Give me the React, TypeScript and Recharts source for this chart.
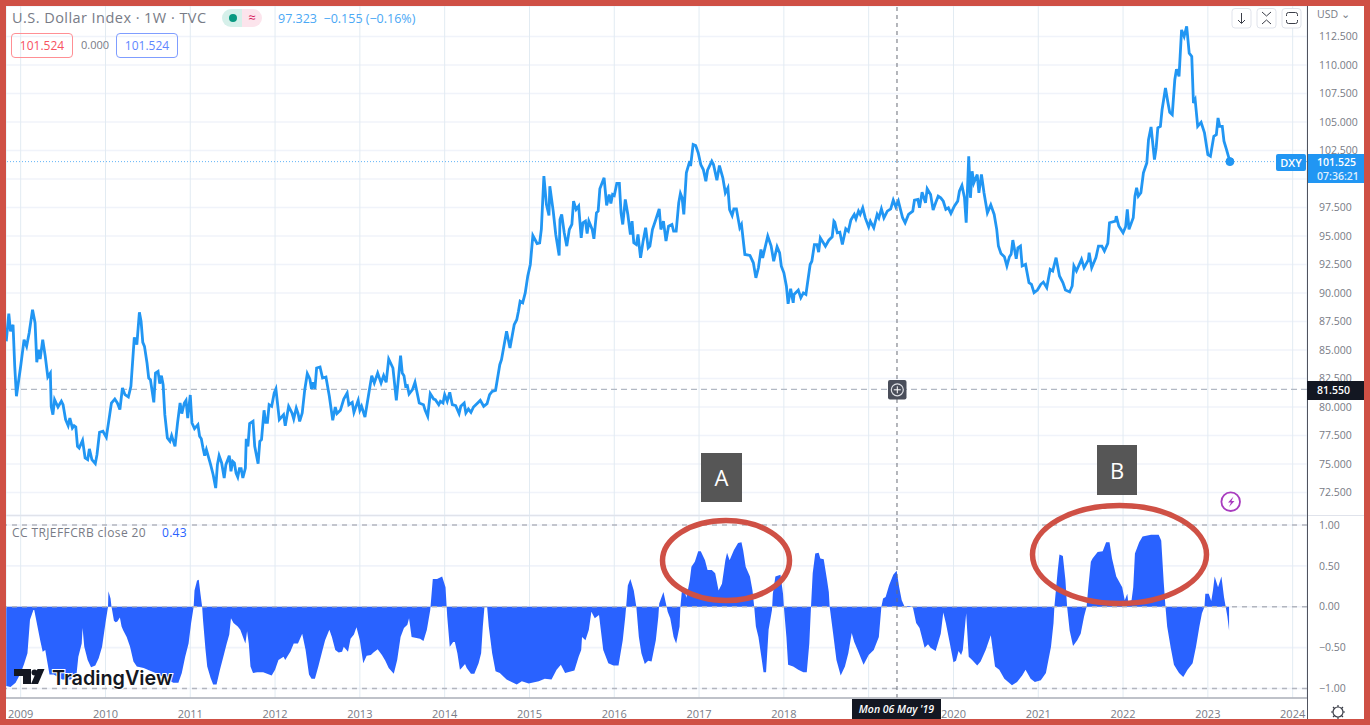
import React from 'react';
import { LineChart, AreaChart, Line, Area, XAxis, YAxis, CartesianGrid, ReferenceLine, ReferenceDot } from 'recharts';

const dxyDatesA = [
  2008.83,2008.86,2008.88,2008.91,2008.93,2008.95,2009.00,2009.04,2009.07,2009.10,
  2009.14,2009.17,2009.19,2009.21,2009.23,2009.26,2009.29,2009.32,2009.35,2009.36,
  2009.38,2009.40,2009.44,2009.48,2009.50,2009.53,2009.56,2009.58,2009.61,2009.63,
  2009.65,2009.67,2009.69,2009.73,2009.76,2009.79,2009.81,2009.84,2009.88,2009.90,
  2009.93,2009.97,2010.01,2010.05,2010.07,2010.11,2010.14,2010.17,2010.20,2010.23,
  2010.27,2010.30,2010.34,2010.37,2010.40,2010.42,2010.44,2010.46,2010.49,2010.51,
  2010.53,2010.57,2010.59,2010.62,2010.64,2010.66,2010.68,2010.70,2010.73,2010.76,
  2010.78,2010.82,2010.85,2010.88,2010.90,2010.93,2010.95,2010.97,2011.00,2011.02,
  2011.05,2011.09,2011.11,2011.13,2011.15,2011.17,2011.19,2011.21,2011.24,2011.27,
  2011.30,2011.32,2011.34,2011.37,2011.40,2011.42,2011.46,2011.48,2011.50,2011.52,
  2011.54,2011.56,2011.58,2011.60,2011.62,2011.65,2011.66,2011.68,2011.70,2011.74,
  2011.76,2011.80,2011.82,2011.84,2011.87,2011.89,2011.91,2011.93,2011.96,2011.99,
  2012.01,2012.05,2012.10,2012.12,2012.16,2012.20,2012.22,2012.25,2012.27,2012.29,
  2012.32,2012.35,2012.38,2012.41,2012.43,2012.45,2012.47,2012.49,2012.53,2012.56,
  2012.60,2012.64,2012.68,2012.71,2012.73,2012.77,2012.81,2012.85,2012.87,2012.91,
  2012.93,2012.98,2013.00,2013.02,2013.06,2013.10,2013.14,2013.17,2013.21,2013.25,
  2013.28,2013.31,2013.34,2013.39,2013.43,2013.48,2013.50,2013.52,2013.54,2013.56,
  2013.58,2013.62,2013.65,2013.70,2013.75,2013.77,2013.80,2013.83,2013.87,2013.89,
  2013.93,2013.95,2013.98,2014.00,2014.03,2014.06,2014.09,2014.13,2014.17,2014.19,
  2014.23,2014.25,2014.28,2014.31,2014.34,2014.38,2014.42,2014.46,2014.50,2014.53,
  2014.56,2014.60,2014.65,2014.67,2014.73,2014.77,2014.82,2014.85,2014.87,2014.89,
];
const dxyCloseA = [
  85.76,88.19,86.64,87.22,83.57,80.94,83.57,85.91,85.32,86.49,
  88.54,87.37,83.92,85.03,84.21,85.91,84.44,82.63,82.98,80.06,
  79.33,80.64,80.00,80.50,80.20,78.89,78.36,79.03,78.16,78.36,
  78.25,76.55,76.40,77.08,75.53,75.38,76.32,75.38,75.03,75.82,
  77.78,77.87,77.34,79.33,80.35,80.70,80.35,79.77,81.67,81.08,
  80.88,81.81,86.11,85.47,88.30,87.51,85.67,85.32,83.86,82.54,
  82.40,80.41,82.98,83.13,82.05,82.75,81.96,79.33,77.28,76.99,
  77.49,76.55,78.60,80.35,79.42,80.35,80.58,79.03,81.05,78.60,
  78.10,78.45,77.43,77.22,76.40,75.73,76.26,75.73,74.94,74.06,
  72.89,74.94,75.73,75.09,73.77,74.94,75.73,74.36,75.23,75.09,
  74.21,73.86,74.59,74.59,73.77,74.65,77.22,76.55,78.54,78.74,
  76.55,75.03,76.99,77.13,79.71,78.65,78.65,80.20,80.06,81.23,
  81.58,78.89,79.33,78.36,80.06,79.47,78.95,79.91,79.47,78.74,
  79.47,81.52,82.92,82.46,81.58,82.16,81.58,83.42,83.51,82.54,
  82.63,80.94,78.83,80.00,79.42,79.71,80.70,81.23,80.20,80.41,
  79.53,80.58,79.71,80.06,79.12,80.94,82.75,82.11,82.98,82.11,
  82.75,82.16,84.21,83.42,80.58,84.50,82.98,82.75,81.81,81.87,
  81.14,81.52,82.16,80.35,80.20,79.71,79.18,81.17,80.70,80.64,
  80.20,80.50,80.35,81.08,80.50,81.29,80.20,80.12,79.42,80.06,
  80.35,79.47,79.82,79.53,80.00,80.29,80.58,80.06,80.29,81.08,
  81.37,81.46,83.71,84.15,86.64,85.18,87.22,87.66,88.39,89.27,
];
const dxyDatesB = [
  2014.92,2014.95,2014.98,2015.01,2015.04,2015.09,2015.12,2015.14,2015.17,2015.20,
  2015.23,2015.24,2015.28,2015.31,2015.35,2015.36,2015.38,2015.41,2015.44,2015.47,
  2015.50,2015.52,2015.55,2015.58,2015.61,2015.63,2015.66,2015.68,2015.70,2015.74,
  2015.76,2015.79,2015.81,2015.83,2015.88,2015.91,2015.94,2015.96,2015.98,2016.00,
  2016.03,2016.06,2016.08,2016.10,2016.13,2016.16,2016.19,2016.21,2016.23,2016.26,
  2016.28,2016.31,2016.34,2016.37,2016.40,2016.42,2016.45,2016.49,2016.53,2016.55,
  2016.58,2016.61,2016.64,2016.68,2016.70,2016.73,2016.76,2016.78,2016.80,2016.82,
  2016.85,2016.89,2016.90,2016.93,2016.96,2016.99,2017.02,2017.05,2017.08,2017.10,
  2017.15,2017.17,2017.21,2017.24,2017.28,2017.31,2017.34,2017.36,2017.39,2017.41,
  2017.44,2017.48,2017.50,2017.54,2017.60,2017.64,2017.67,2017.70,2017.73,2017.75,
  2017.81,2017.85,2017.88,2017.92,2017.95,2017.97,2018.00,2018.03,2018.05,2018.08,
  2018.11,2018.12,2018.17,2018.20,2018.23,2018.26,2018.31,2018.33,2018.36,2018.39,
  2018.41,2018.43,2018.49,2018.53,2018.57,2018.59,2018.60,2018.63,2018.66,2018.69,
  2018.73,2018.76,2018.79,2018.83,2018.85,2018.88,2018.90,2018.93,2018.96,2019.00,
  2019.02,2019.06,2019.10,2019.12,2019.15,2019.18,2019.22,2019.26,2019.29,2019.32,
  2019.35,
];
const dxyCloseB = [
  89.14,90.01,91.48,92.50,95.04,94.34,94.40,95.57,100.25,97.76,
  96.80,99.37,97.18,95.13,93.29,96.45,96.89,95.28,94.11,95.57,
  96.01,98.06,97.32,97.62,94.84,96.15,96.30,95.22,96.30,95.57,
  94.75,97.03,97.18,99.14,100.10,97.68,98.64,97.85,98.64,98.55,
  99.61,99.61,97.03,96.01,98.20,96.89,95.13,96.30,94.40,94.25,
  95.13,93.08,94.55,95.72,93.96,94.11,95.57,96.45,97.38,95.57,
  96.30,94.55,95.86,96.01,95.42,95.42,97.91,98.73,98.35,96.89,
  100.54,101.56,101.13,103.03,102.94,102.30,101.27,100.83,99.81,100.77,
  101.56,101.27,99.90,101.18,100.10,98.79,99.23,97.32,96.80,97.38,
  97.38,95.72,96.01,93.38,93.29,92.65,91.33,92.21,93.82,93.08,
  94.99,94.11,92.79,94.05,93.52,92.35,91.77,90.60,89.05,90.37,
  89.14,89.87,90.25,89.58,90.01,89.87,92.50,92.79,94.25,94.25,
  93.58,94.84,94.11,94.63,94.93,96.30,96.21,95.28,95.34,94.25,
  95.63,95.42,96.39,96.89,96.51,97.18,96.89,97.47,96.59,95.80,
  96.30,95.72,96.89,96.59,97.38,96.59,97.18,97.38,98.14,97.56,
  98.06,
];
const dxyDatesC = [
  2019.40,2019.43,2019.47,2019.52,2019.54,2019.58,2019.60,2019.63,2019.67,2019.69,
  2019.73,2019.76,2019.79,2019.82,2019.85,2019.88,2019.91,2019.94,2019.97,2020.01,
  2020.05,2020.07,2020.10,2020.13,2020.15,2020.18,2020.20,2020.22,2020.24,2020.28,
  2020.30,2020.33,2020.36,2020.40,2020.44,2020.48,2020.51,2020.53,2020.56,2020.60,
  2020.63,2020.66,2020.68,2020.70,2020.74,2020.76,2020.79,2020.81,2020.85,2020.89,
  2020.92,2020.95,2020.99,2021.03,2021.06,2021.10,2021.14,2021.17,2021.21,2021.25,
  2021.29,2021.32,2021.37,2021.40,2021.42,2021.45,2021.51,2021.54,2021.59,2021.60,
  2021.63,2021.68,2021.71,2021.75,2021.78,2021.82,2021.84,2021.91,2021.92,2021.95,
  2022.00,2022.03,2022.05,2022.07,2022.12,2022.14,2022.16,2022.18,2022.21,2022.24,
  2022.28,2022.30,2022.33,2022.37,2022.39,2022.41,2022.44,2022.46,2022.50,2022.53,
  2022.55,2022.58,2022.61,2022.63,2022.66,2022.69,2022.72,2022.75,2022.78,2022.81,
  2022.83,2022.85,2022.88,2022.92,2022.96,2023.00,2023.03,2023.07,2023.10,2023.12,
  2023.14,2023.17,2023.19,2023.22,2023.26,
];
const dxyCloseC = [
  96.60,96.16,96.89,97.18,98.14,98.20,97.47,98.84,97.91,99.14,
  98.64,97.27,97.91,98.49,98.35,98.05,97.33,97.47,96.98,97.62,
  98.06,98.93,99.43,98.35,96.16,102.00,98.35,100.68,99.66,100.39,
  98.79,100.39,98.79,97.03,97.73,96.89,95.58,94.12,93.47,93.18,
  92.37,93.18,93.39,94.64,93.01,93.97,94.12,92.37,92.51,90.91,
  90.76,90.03,90.26,90.76,90.96,90.47,92.07,91.93,93.10,91.49,
  90.91,90.26,90.09,90.62,92.37,91.93,92.95,92.22,92.89,93.53,
  92.22,93.10,94.12,94.12,93.68,94.35,96.16,96.30,96.74,95.87,
  95.28,95.81,97.33,95.58,96.60,98.49,99.22,98.49,98.79,100.54,
  101.41,103.45,104.56,101.70,102.72,104.48,104.62,106.08,107.98,106.66,
  105.85,105.64,108.71,109.64,109.00,113.08,112.50,113.38,111.04,110.75,
  106.66,106.96,104.62,104.97,104.04,102.14,102.00,103.75,103.89,105.35,
  104.62,104.62,103.31,102.58,101.525,
];

const corrDatesA = [
  2008.83,2008.88,2008.94,2009.00,2009.04,2009.08,2009.11,2009.15,2009.16,2009.19,
  2009.23,2009.26,2009.29,2009.31,2009.34,2009.39,2009.49,2009.59,2009.66,2009.68,
  2009.72,2009.73,2009.75,2009.79,2009.83,2009.88,2009.92,2009.96,2010.00,2010.03,
  2010.035,2010.06,2010.07,2010.10,2010.12,2010.14,2010.17,2010.19,2010.21,2010.25,
  2010.29,2010.33,2010.37,2010.45,2010.59,2010.73,2010.80,2010.86,2010.90,2010.94,
  2010.98,2011.01,2011.04,2011.05,2011.08,2011.10,2011.12,2011.14,2011.15,2011.18,
  2011.20,2011.24,2011.27,2011.31,2011.35,2011.39,2011.43,2011.46,2011.48,2011.51,
  2011.56,2011.59,2011.65,2011.67,2011.69,2011.71,2011.74,2011.79,2011.86,2011.96,
  2012.00,2012.04,2012.10,2012.12,2012.15,2012.18,2012.22,2012.27,2012.32,2012.36,
  2012.40,2012.43,2012.47,2012.51,2012.55,2012.59,2012.64,2012.67,2012.71,2012.75,
  2012.79,2012.81,2012.86,2012.89,2012.93,2012.96,2013.00,2013.04,2013.08,2013.13,
  2013.16,2013.21,2013.26,2013.30,2013.34,2013.40,2013.44,2013.48,2013.52,2013.56,
  2013.58,2013.61,2013.71,2013.75,2013.79,2013.83,2013.86,2013.91,2013.97,2014.01,
  2014.03,2014.06,2014.10,2014.12,2014.15,2014.18,
];
const corrValuesA = [
  -0.97,-0.98,-0.93,-0.81,-0.70,-0.57,-0.16,-0.04,-0.04,-0.20,
  -0.41,-0.55,-0.53,-0.65,-0.83,-0.83,-0.89,-0.89,-0.81,-0.61,
  -0.45,-0.26,-0.49,-0.65,-0.74,-0.72,-0.63,-0.49,-0.20,0.00,
  0.19,0.10,0.01,-0.17,-0.19,-0.18,-0.13,-0.24,-0.29,-0.37,
  -0.49,-0.67,-0.73,-0.75,-0.81,-0.89,-0.93,-0.93,-0.81,-0.61,
  -0.45,-0.20,0.00,0.20,0.32,0.33,0.16,0.00,-0.16,-0.53,
  -0.73,-0.87,-0.95,-0.95,-0.77,-0.61,-0.45,-0.34,-0.14,-0.20,
  -0.24,-0.28,-0.45,-0.30,-0.45,-0.73,-0.81,-0.80,-0.80,-0.84,
  -0.77,-0.65,-0.61,-0.65,-0.60,-0.55,-0.45,-0.45,-0.33,-0.53,
  -0.83,-0.88,-0.88,-0.73,-0.57,-0.41,-0.28,-0.37,-0.53,-0.56,
  -0.55,-0.49,-0.55,-0.39,-0.34,-0.25,-0.41,-0.69,-0.60,-0.59,
  -0.56,-0.52,-0.59,-0.66,-0.75,-0.82,-0.65,-0.37,-0.26,-0.22,
  -0.14,-0.37,-0.39,-0.42,-0.28,-0.04,0.34,0.34,0.37,0.24,
  -0.12,-0.49,-0.43,-0.43,-0.57,-0.77,
];
const corrDatesB = [
  2014.20,2014.24,2014.26,2014.31,2014.35,2014.40,2014.43,2014.45,2014.47,2014.50,
  2014.52,2014.56,2014.60,2014.65,2014.73,2014.85,2014.91,2014.99,2015.11,2015.18,
  2015.26,2015.32,2015.37,2015.42,2015.53,2015.58,2015.61,2015.62,2015.66,2015.70,
  2015.73,2015.77,2015.82,2015.87,2015.93,2015.99,2016.05,2016.10,2016.13,2016.14,
  2016.16,2016.19,2016.23,2016.26,2016.29,2016.32,2016.36,2016.40,2016.44,2016.49,
  2016.52,2016.53,2016.58,2016.63,2016.66,2016.70,2016.73,2016.77,2016.78,2016.80,
  2016.83,2016.85,2016.89,2016.91,2016.95,2016.99,2017.02,2017.07,2017.10,2017.15,
  2017.19,2017.23,2017.27,2017.31,2017.33,2017.36,2017.41,2017.46,2017.50,2017.52,
  2017.55,2017.60,2017.63,2017.65,2017.67,2017.70,2017.74,2017.76,2017.79,2017.82,
  2017.86,2017.87,2017.90,2017.96,2017.99,2018.00,2018.03,2018.05,2018.11,2018.17,
  2018.23,2018.27,2018.30,2018.32,2018.34,2018.37,2018.41,2018.43,2018.47,2018.51,
  2018.53,2018.54,2018.58,2018.62,2018.67,2018.72,2018.76,2018.80,2018.83,2018.87,
  2018.94,2019.00,2019.06,2019.12,2019.15,2019.17,2019.20,2019.24,2019.29,2019.33,
  2019.36,2019.39,2019.42,2019.48,
];
const corrValuesB = [
  -0.75,-0.70,-0.75,-0.82,-0.82,-0.69,-0.57,-0.24,0.01,0.01,
  -0.24,-0.57,-0.79,-0.81,-0.89,-0.95,-0.91,-0.94,-0.91,-0.88,
  -0.89,-0.77,-0.71,-0.81,-0.78,-0.61,-0.53,-0.37,-0.41,-0.28,
  -0.06,-0.14,-0.10,-0.53,-0.69,-0.72,-0.72,-0.41,-0.12,0.00,
  0.26,0.34,0.20,0.00,-0.37,-0.57,-0.70,-0.66,-0.67,-0.41,
  -0.12,0.04,0.18,-0.06,-0.14,-0.37,-0.45,-0.24,0.00,0.22,
  0.20,0.11,0.32,0.49,0.55,0.68,0.68,0.57,0.45,0.45,
  0.41,0.20,0.28,0.57,0.66,0.57,0.69,0.78,0.79,0.69,
  0.49,0.37,0.20,0.00,-0.24,-0.37,-0.65,-0.80,-0.80,-0.28,
  -0.04,0.16,0.37,0.39,0.16,0.00,-0.37,-0.71,-0.73,-0.77,
  -0.80,-0.80,-0.45,0.00,0.41,0.65,0.66,0.59,0.58,0.32,
  0.18,0.00,-0.32,-0.65,-0.84,-0.73,-0.57,-0.32,-0.43,-0.53,
  -0.71,-0.59,-0.53,-0.37,0.00,0.10,0.12,0.26,0.39,0.44,
  0.24,0.08,0.01,0.01,
];
const corrDatesC = [
  2019.52,2019.56,2019.60,2019.66,2019.70,2019.73,2019.79,2019.85,2019.88,2019.91,
  2019.95,2020.00,2020.03,2020.06,2020.09,2020.11,2020.15,2020.18,2020.22,2020.28,
  2020.32,2020.38,2020.44,2020.49,2020.54,2020.60,2020.69,2020.75,2020.81,2020.85,
  2020.91,2020.96,2021.03,2021.09,2021.15,2021.18,2021.19,2021.23,2021.25,2021.29,
  2021.32,2021.34,2021.37,2021.41,2021.46,2021.50,2021.54,2021.57,2021.59,2021.62,
  2021.64,2021.70,2021.76,2021.80,2021.84,2021.87,2021.92,2021.99,2022.02,2022.05,
  2022.06,2022.10,2022.12,2022.14,2022.19,2022.23,2022.33,2022.42,2022.45,2022.48,
  2022.50,2022.52,2022.56,2022.60,2022.66,2022.71,2022.76,2022.82,2022.86,2022.90,
  2022.93,2022.96,2022.97,2023.01,2023.04,2023.06,2023.08,2023.12,2023.16,2023.19,
  2023.21,2023.23,2023.25,
];
const corrValuesC = [
  0.00,-0.20,-0.26,-0.50,-0.46,-0.50,-0.54,-0.33,-0.07,-0.20,
  -0.41,-0.68,-0.66,-0.54,-0.59,-0.53,-0.08,-0.61,-0.65,-0.72,
  -0.67,-0.53,-0.35,-0.73,-0.77,-0.88,-0.96,-0.92,-0.84,-0.77,
  -0.88,-0.92,-0.90,-0.81,-0.49,-0.20,0.00,0.45,0.64,0.62,
  0.33,0.00,-0.29,-0.48,-0.41,-0.33,-0.12,0.00,0.24,0.55,
  0.59,0.67,0.68,0.79,0.79,0.59,0.37,0.24,0.08,0.16,
  0.06,0.08,0.24,0.65,0.79,0.86,0.88,0.88,0.81,0.29,
  0.00,-0.24,-0.49,-0.71,-0.81,-0.86,-0.77,-0.69,-0.49,-0.24,
  -0.08,0.00,0.16,0.16,0.07,0.20,0.37,0.24,0.37,0.12,
  0.00,-0.12,-0.29,
];

const yearTicks = [2009,2010,2011,2012,2013,2014,2015,2016,2017,2018,2019,2020,2021,2022,2023,2024];
const priceTicks = [72.5,75,77.5,80,82.5,85,87.5,90,92.5,95,97.5,100,102.5,105,107.5,110,112.5];
const corrTicks = [-1,-0.5,0,0.5,1];

const dxyData = [...dxyDatesA, ...dxyDatesB, ...dxyDatesC].map((year, i) => ({
  year, close: [...dxyCloseA, ...dxyCloseB, ...dxyCloseC][i],
}));
const corrData = [...corrDatesA, ...corrDatesB, ...corrDatesC].map((year, i) => ({
  year, corr: [...corrValuesA, ...corrValuesB, ...corrValuesC][i],
}));

const FONT = '"Open Sans", "Noto Sans", sans-serif';
const GRAY = '#787b86';
const X_DOMAIN: [number, number] = [2008.827, 2024.169];
const CROSS_YEAR = 2019.334;

const T = ({ x, y, w, h, c, s = 12, bg, b, r, center, children, weight, ls, italic }: any) => (
  <div style={{
    position: 'absolute', left: x, top: y, width: w, height: h, color: c, fontSize: s,
    background: bg, border: b ? `1px solid ${b}` : undefined, borderRadius: r, boxSizing: 'border-box',
    textAlign: center ? 'center' : 'left', lineHeight: h ? `${h - (b ? 2 : 0)}px` : undefined,
    whiteSpace: 'nowrap', fontFamily: FONT, fontWeight: weight, letterSpacing: ls,
    fontStyle: italic ? 'italic' : undefined,
  }}>{children}</div>
);

export default function App() {
  return (
    <div style={{ position: 'absolute', left: 0, top: 0, width: 1370, height: 725, overflow: 'hidden', background: '#fff', fontFamily: FONT }}>
      <div style={{ position: 'absolute', left: 0, top: 0 }}>
        <LineChart width={1370} height={515} data={dxyData} margin={{ top: 6, right: 6, bottom: 0, left: 6 }}>
          <CartesianGrid horizontal vertical={false} stroke="#f0f3fa" strokeWidth={1.6} />
          <CartesianGrid horizontal={false} vertical stroke="#e2ebf2" strokeWidth={1} />
          <XAxis dataKey="year" type="number" domain={X_DOMAIN} ticks={yearTicks} hide allowDataOverflow />
          <YAxis orientation="right" type="number" domain={[70.526, 115.175]} ticks={priceTicks} interval={0} width={57}
            axisLine={false} tickLine={false} tickMargin={6} allowDataOverflow
            tick={{ fill: GRAY, fontSize: 10.5, fontFamily: FONT }}
            tickFormatter={(v: number) => (v === 100 ? '' : v.toFixed(3))} />
          <ReferenceLine y={101.525} stroke="#2196f3" strokeDasharray="1 2" strokeWidth={1} strokeOpacity={0.7} />
          <ReferenceLine y={81.55} stroke="#b2b9c4" strokeDasharray="6 4" strokeWidth={1.4} />
          <ReferenceLine x={CROSS_YEAR} stroke="#6a6d78" strokeDasharray="4 4" />
          <Line dataKey="close" type="linear" stroke="#2196f3" strokeWidth={2.8} dot={false} isAnimationActive={false} />
          <ReferenceDot x={2023.26} y={101.525} r={4} fill="#2196f3" stroke="#2196f3" />
        </LineChart>
      </div>
      <div style={{ position: 'absolute', left: 0, top: 516 }}>
        <AreaChart width={1370} height={209} data={corrData} margin={{ top: 0, right: 6, bottom: 6, left: 6 }}>
          <CartesianGrid horizontal vertical={false} stroke="#f0f3fa" strokeWidth={1.6} />
          <CartesianGrid horizontal={false} vertical stroke="#e2ebf2" strokeWidth={1} />
          <XAxis dataKey="year" type="number" domain={X_DOMAIN} ticks={yearTicks} interval={0} height={21} allowDataOverflow
            axisLine={{ stroke: '#aeb1b8', strokeWidth: 1.5 }} tickLine={false} tickMargin={6}
            tick={{ fill: GRAY, fontSize: 11, fontFamily: FONT }}
            tickFormatter={(v: number) => (v === 2019 ? '' : String(v))} />
          <YAxis orientation="right" type="number" domain={[-1.116, 1.11]} ticks={corrTicks} interval={0} width={57}
            axisLine={false} tickLine={false} tickMargin={6} allowDataOverflow
            tick={{ fill: GRAY, fontSize: 10.5, fontFamily: FONT }}
            tickFormatter={(v: number) => v.toFixed(2).replace('-', '\u2212')} />
          <Area dataKey="corr" type="linear" baseValue={0} stroke="none" fill="#2962ff" fillOpacity={1} isAnimationActive={false} />
          <ReferenceLine y={1} stroke="#b2b5be" strokeDasharray="5 5" strokeWidth={1.3} />
          <ReferenceLine y={0} stroke="#b2b5be" strokeDasharray="5 5" strokeWidth={1.3} />
          <ReferenceLine y={-1} stroke="#b2b5be" strokeDasharray="5 5" strokeWidth={1.3} />
          <ReferenceLine x={CROSS_YEAR} stroke="#6a6d78" strokeDasharray="4 4" />
        </AreaChart>
      </div>

      {/* frame lines */}
      <div style={{ position: 'absolute', left: 6, top: 515, width: 1358, height: 1, background: '#e0e3eb' }} />
      <div style={{ position: 'absolute', left: 1307, top: 6, width: 1, height: 713, background: '#50535e' }} />

      {/* legend */}
      <T x={12} y={8} h={20} c={GRAY} s={14.5} ls={0.45}>U.S. Dollar Index · 1W · TVC</T>
      <div style={{ position: 'absolute', left: 222, top: 9, width: 20, height: 18, background: '#d6f0ea', borderRadius: '9px 0 0 9px' }}>
        <div style={{ position: 'absolute', left: 7, top: 5, width: 8, height: 8, borderRadius: 4, background: '#089981' }} />
      </div>
      <div style={{ position: 'absolute', left: 242, top: 9, width: 20, height: 18, background: '#fce4ec', borderRadius: '0 9px 9px 0', color: '#d81b60', fontSize: 13, textAlign: 'center', lineHeight: '17px' }}>≈</div>
      <T x={278} y={9} h={20} c="#4aa8f5" s={12.5}>97.323&nbsp;&nbsp;−0.155 (−0.16%)</T>
      <T x={11} y={33} w={62} h={25} c="#f7525f" s={12} b="#ff8f94" r={4} center>101.524</T>
      <T x={81} y={35} h={20} c={GRAY} s={11}>0.000</T>
      <T x={116} y={33} w={62} h={25} c="#5f86ff" s={12} b="#7f9dff" r={4} center>101.524</T>
      <T x={12} y={523} h={20} c={GRAY} s={12} ls={0.4}>CC TRJEFFCRB close 20</T>
      <T x={162} y={523} h={20} c="#2962ff" s={12} ls={0.3}>0.43</T>

      {/* right scale decorations */}
      <T x={1317} y={5} h={18} c={GRAY} s={10.5}>USD ⌄</T>
      <T x={1276} y={154} w={30} h={17} c="#fff" bg="#2196f3" s={11} r={2} center weight={600}>DXY</T>
      <div style={{ position: 'absolute', left: 1308, top: 154, width: 56, height: 29, background: '#2196f3', color: '#fff', fontSize: 10.5, lineHeight: '14px', fontFamily: FONT, fontWeight: 600, paddingLeft: 9, boxSizing: 'border-box' }}>
        <div style={{ paddingTop: 1 }}>101.525</div><div style={{ opacity: 0.85 }}>07:36:21</div>
      </div>
      <div style={{ position: 'absolute', left: 1307, top: 381, width: 57, height: 19, background: '#131722', color: '#fff', fontSize: 10.5, lineHeight: '19px', fontFamily: FONT, fontWeight: 600, paddingLeft: 10, boxSizing: 'border-box' }}>81.550</div>
      <T x={852} y={699} w={89} h={20} c="#fff" bg="#131722" s={10.5} center italic weight={600}>Mon 06 May '19</T>

      {/* annotations */}
      <T x={701} y={453} w={41} h={49} c="#fff" bg="#565656" s={22} center>A</T>
      <T x={1097} y={445} w={40} h={50} c="#fff" bg="#565656" s={22} center>B</T>

      <svg width={1370} height={725} style={{ position: 'absolute', left: 0, top: 0, pointerEvents: 'none' }}>
        <ellipse cx={726} cy={560.5} rx={63.5} ry={40} fill="none" stroke="#cf5045" strokeWidth={5.5} />
        <ellipse cx={1119.5} cy={554.5} rx={87} ry={49} fill="none" stroke="#cf5045" strokeWidth={5.5} />

        {/* crosshair centre */}
        <rect x={888} y={380} width={18.500} height={19.500} rx={2} fill="#4a4e5a" />
        <circle cx={897.300} cy={389.800} r={6} fill="none" stroke="#dfe1e6" strokeWidth={1.2} />
        <path d="M897.300 386.300v7M893.800 389.800h7" stroke="#fff" strokeWidth={1} />

        {/* lightning */}
        <circle cx={1230.700} cy={501.700} r={9.300} fill="#fff" stroke="#a83cbf" strokeWidth={1.800} />
        <path d="M1233.500 496.500l-5.500 6h3l-2 4.500 5.500-6h-3z" fill="#a83cbf" />

        {/* top-right buttons */}
        {[1232, 1257, 1282].map((x) => (
          <rect key={x} x={x} y={8.500} width={19} height={19.500} rx={3} fill="#fff" stroke="#e0e3eb" />
        ))}
        <path d="M1241.500 13v10M1238 20l3.500 3.500 3.500-3.500" fill="none" stroke="#3b3e48" strokeWidth={1} />
        <path d="M1262 12l4.500 4 4.500-4M1262 24l4.500-4 4.500 4" fill="none" stroke="#3b3e48" strokeWidth={1} />
        <path d="M1286.500 16v-1.500a2 2 0 0 1 2-2h7a2 2 0 0 1 2 2v1.500M1286.500 20v1.500a2 2 0 0 0 2 2h7a2 2 0 0 0 2-2v-1.500" fill="none" stroke="#3b3e48" strokeWidth={1} />

        {/* settings gear */}
        <circle cx={1338} cy={712} r={5} fill="none" stroke="#3b3e48" strokeWidth={1.200} />
        <path d="M1338 705v2M1338 717v2M1331 712h2M1343 712h2M1333 707l1.500 1.500M1341.500 715.500l1.500 1.500M1343 707l-1.500 1.500M1334.500 715.500l-1.500 1.500" stroke="#3b3e48" strokeWidth={1.200} />

        {/* TradingView logo */}
        <path d="M14 669H31V684H23V676H14Z" fill="#131722" />
        <circle cx={34.500} cy={672.500} r={3} fill="#131722" />
        <path d="M37.500 669H44.500L38 684H31Z" fill="#131722" />
        <text x={52} y={684.500} fontFamily="Inter, Roboto, sans-serif" fontSize={19.800} fontWeight={600} fill="#131722" stroke="#fff" strokeWidth={2} paintOrder="stroke">TradingView</text>
      </svg>

      {/* red frame */}
      <div style={{ position: 'absolute', left: 0, top: 0, width: 1370, height: 725, boxSizing: 'border-box', border: '6px solid #cf5045', pointerEvents: 'none' }} />
    </div>
  );
}
